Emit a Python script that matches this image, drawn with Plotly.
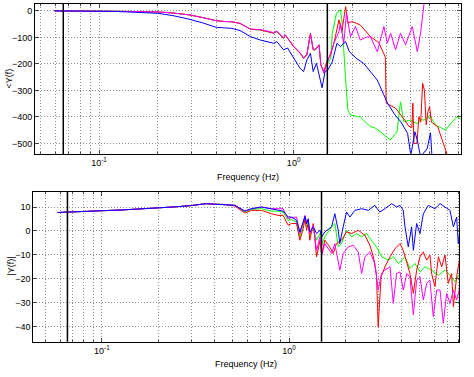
import plotly.graph_objects as go
from plotly.subplots import make_subplots

# ---------------- data: phase (top) ----------------
f_lo_ph = [0.059, 0.07, 0.085, 0.1, 0.12, 0.14, 0.17, 0.2, 0.24, 0.29, 0.34, 0.4, 0.44, 0.48, 0.53, 0.57, 0.6]
ph_lo_rgm = [0, 0, 0, 0, -1, -2, -3, -4, -8, -15, -25, -37, -40, -41, -47, -60, -69]
ph_lo_blue = [0, 0, 0, -1, -2, -4, -6, -9, -18, -31, -45, -62, -64, -66, -74, -88, -97]

f_red_ph = [0.674, 0.73, 0.789, 0.82, 0.888, 0.906, 1.0, 1.08, 1.125, 1.17, 1.22, 1.26, 1.29, 1.35, 1.38,
            1.43, 1.48, 1.55, 1.61, 1.71, 1.77, 1.85, 1.90, 2.0, 2.2, 2.48, 2.74, 2.9, 2.96, 2.99, 3.35,
            3.72, 3.9, 4.05, 4.1, 4.15, 4.3, 4.4, 4.5, 4.6, 4.7, 4.8, 4.9, 5.0, 5.1, 5.5, 6.05, 6.4]
red_ph = [-72, -78, -84, -78, -103, -91, -135, -160, -179, -166, -84, -147, -147, -128, -204,
          -229, -191, -166, -122, -34, -78, 16, -47, -40, -53, -97, -120, -160, -175, -348, -368,
          -412, -435, -440, -348, -500, -500, -400, -420, -273, -300, -430, -380, -362, -420, -437, -532, -580]

f_green_ph = [0.674, 0.73, 0.789, 0.82, 0.888, 0.906, 1.0, 1.08, 1.125, 1.17, 1.22, 1.26, 1.29, 1.35, 1.38,
              1.43, 1.48, 1.55, 1.58, 1.66, 1.74, 1.77, 1.81, 1.85, 1.90, 1.96, 2.05, 2.12, 2.2, 2.3,
              2.48, 2.6, 2.79, 2.95, 3.14, 3.4, 3.54, 3.68, 3.98, 4.15, 4.31, 4.5, 4.67, 5.05, 5.36,
              5.7, 6.03, 6.5, 6.92, 7.34]
green_ph = [-72, -78, -84, -78, -103, -91, -135, -160, -179, -166, -86, -147, -147, -128, -204,
            -229, -205, -180, -84, -9, 4, -34, -160, -261, -375, -393, -395, -400, -399, -415,
            -437, -440, -456, -470, -487, -456, -343, -418, -412, -420, -425, -410, -412, -399, -431,
            -440, -450, -420, -399, -412]

f_mag_ph = [0.674, 0.73, 0.789, 0.82, 0.888, 0.906, 1.0, 1.08, 1.125, 1.17, 1.22, 1.26, 1.29, 1.35, 1.38,
            1.43, 1.51, 1.61, 1.71, 1.74, 1.81, 1.87, 1.96, 2.08, 2.2, 2.35, 2.48, 2.69, 2.91, 3.03,
            3.15, 3.34, 3.54, 3.76, 4.07, 4.32, 4.5, 4.63, 4.8]
magenta_ph = [-70, -77, -82, -77, -101, -90, -133, -158, -177, -164, -86, -145, -145, -128, -204,
              -235, -179, -122, -78, -47, -122, -9, -97, -59, -110, -100, -97, -154, -59, -122,
              -84, -147, -84, -128, -59, -154, -80, 26, 100]

f_blue_ph = [0.674, 0.73, 0.789, 0.82, 0.888, 0.93, 1.0, 1.08, 1.125, 1.17, 1.22, 1.26, 1.31, 1.37, 1.40,
             1.45, 1.5, 1.58, 1.67, 1.74, 1.8, 1.85, 1.93, 2.1, 2.29, 2.48, 2.69, 3.04, 3.3, 3.55,
             3.85, 4.0, 4.2, 4.32, 4.49, 4.86, 5.05, 5.15, 5.6]
blue_ph = [-110, -115, -122, -116, -147, -140, -179, -217, -229, -185, -160, -229, -198, -261, -290,
           -229, -223, -192, -122, -135, -125, -116, -153, -179, -198, -229, -261, -349, -390, -418,
           -462, -545, -456, -488, -551, -519, -460, -560, -700]

# ---------------- data: magnitude (bottom) ----------------
f_lo_m = [0.058, 0.07, 0.08, 0.1, 0.13, 0.16, 0.2, 0.25, 0.3, 0.33, 0.36, 0.4]
mag_lo = [7.7, 7.9, 8.1, 8.4, 8.8, 9.2, 9.5, 10.1, 10.6, 10.9, 11.4, 11.2]

f_mid_m = [0.453, 0.513, 0.58, 0.63, 0.711, 0.805, 0.873, 0.929, 0.989, 1.03, 1.096, 1.142,
           1.19, 1.216, 1.24, 1.265, 1.29, 1.346, 1.403, 1.463, 1.493]
blue_mid = [11.1, 10.7, 8.3, 9.3, 10.0, 9.3, 8.9, 8.3, 5.8, 5.8, 4.4, -0.4,
            3.75, 6.1, 3.1, 5.1, -0.4, 1.7, -1.1, 0.3, -2.5]
green_mid = [11.1, 10.7, 7.9, 9.0, 9.3, 8.3, 8.3, 7.9, 4.4, 4.7, 3.75, -2.5,
             2.4, 5.8, 1.7, 4.4, -1.8, 1.0, -3.9, -1.1, -5.9]
red_mid = [11.1, 10.4, 7.5, 8.6, 8.6, 7.2, 6.5, 6.5, 2.4, 3.1, 3.1, -3.9,
           1.0, 5.1, 0.3, 3.1, -3.9, 3.1, -10.8, -3.9, -10.1]
magenta_mid = [11.1, 10.7, 8.3, 9.3, 10.0, 9.3, 9.3, 9.3, 5.1, 5.6, 5.8, -1.1,
               3.75, 6.5, 3.1, 4.4, -1.1, 2.4, -8.1, -2.5, -10.1]

f_blue_hf = [1.552, 1.686, 1.755, 1.83, 1.866, 1.945, 2.027, 2.113, 2.245, 2.44, 2.65, 2.87, 3.05, 3.25,
             3.53, 3.75, 3.91, 4.07, 4.16, 4.33, 4.51, 4.61, 4.80, 5.00, 5.21, 5.54, 6.01, 6.40, 6.80,
             7.23, 7.54, 7.85, 8.01, 8.18]
blue_hf = [-0.4, 1.7, 7.2, 0.3, -5.3, 1.7, 7.9, 5.8, 8.6, 9.3, 8.6, 10.7, 7.9, 9.3,
           11.4, 10.0, 10.7, 8.6, 1.7, -6.7, 1.7, -8.1, 3.1, -1.1, 7.2, 10.7, 9.3, 11.4, 10.0,
           8.6, 1.7, 5.8, -5.3, 0.3]

f_green_hf = [1.552, 1.686, 1.755, 1.83, 1.905, 2.027, 2.157, 2.29, 2.44, 2.59, 2.76, 2.93, 3.12, 3.39,
              3.60, 3.83, 4.16, 4.42, 4.70, 5.00, 5.32, 5.77, 6.27, 6.80, 7.23, 7.69, 8.18]
green_hf = [-2.5, 1.7, 3.1, -6.7, -5.3, 0.3, -2.5, -1.1, -2.5, -1.1, -3.9, -6.7, -10.8, -12.2,
            -10.8, -13.6, -10.8, -15.7, -13.6, -17.1, -15.0, -16.4, -18.5, -16.4, -18.5, -21.3, -17.8]

f_red_hf = [1.552, 1.65, 1.72, 1.79, 1.905, 2.027, 2.157, 2.34, 2.54, 2.70, 2.82, 2.93, 2.99, 3.10,
            3.25, 3.46, 3.68, 3.91, 4.07, 4.25, 4.42, 4.61, 4.80, 5.00, 5.21, 5.43, 5.65, 5.77, 6.01,
            6.27, 6.53, 6.80, 7.08, 7.38, 7.54, 7.85, 8.18]
red_hf = [-3.9, -6.7, -9.4, -5.3, -3.9, -0.4, -1.1, 0.3, -1.8, -6.0, -10.8, -18.5, -40.0, -19.2,
          -15.0, -10.8, -7.4, -5.3, -8.1, -13.6, -17.8, -26.1, -16.4, -10.8, -8.75, -12.2, -10.1, -17.8, -23.3,
          -10.8, -15.0, -10.1, -21.9, -17.8, -31.7, -19.2, -10.8]

f_magenta_hf = [1.552, 1.686, 1.755, 1.866, 1.945, 2.07, 2.2, 2.34, 2.44, 2.54, 2.70, 2.87, 2.99, 3.12,
                3.25, 3.46, 3.60, 3.75, 3.91, 4.07, 4.25, 4.42, 4.61, 4.80, 5.00, 5.21, 5.43, 5.65, 5.89,
                6.14, 6.40, 6.66, 6.94, 7.23, 7.54, 7.85, 8.18]
magenta_hf = [-5.3, -9.4, -5.3, -16.4, -9.4, -6.7, -6.0, -8.75, -17.8, -10.8, -8.75, -13.6, -24.7, -17.8,
              -16.4, -15.0, -30.3, -17.8, -17.1, -24.7, -17.8, -19.2, -35.1, -20.6, -19.2, -28.9, -21.9, -20.6, -35.8,
              -24.7, -24.7, -38.6, -26.1, -30.3, -24.7, -28.9, -23.3]

marker_freqs = [0.0655, 1.49]

# ---------------- figure ----------------
W, H = 474, 377
fig = make_subplots(rows=2, cols=1)

colors = {"green": "#00ff00", "red": "#ff0000", "magenta": "#ff00ff", "blue": "#0000ff"}

phase_series = [
    ("green", f_lo_ph + f_green_ph, ph_lo_rgm + green_ph),
    ("red", f_lo_ph + f_red_ph, ph_lo_rgm + red_ph),
    ("magenta", f_lo_ph + f_mag_ph, ph_lo_rgm + magenta_ph),
    ("blue", f_lo_ph + f_blue_ph, ph_lo_blue + blue_ph),
]
mag_series = [
    ("green", f_lo_m + f_mid_m + f_green_hf, mag_lo + green_mid + green_hf),
    ("red", f_lo_m + f_mid_m + f_red_hf, mag_lo + red_mid + red_hf),
    ("magenta", f_lo_m + f_mid_m + f_magenta_hf, mag_lo + magenta_mid + magenta_hf),
    ("blue", f_lo_m + f_mid_m + f_blue_hf, mag_lo + blue_mid + blue_hf),
]
for name, xs, ys in phase_series:
    fig.add_trace(go.Scatter(x=xs, y=ys, mode="lines", line=dict(color=colors[name], width=1),
                             showlegend=False, hoverinfo="skip"), row=1, col=1)
for name, xs, ys in mag_series:
    fig.add_trace(go.Scatter(x=xs, y=ys, mode="lines", line=dict(color=colors[name], width=1),
                             showlegend=False, hoverinfo="skip"), row=2, col=1)

for xr, yr in (("x", "y"), ("x2", "y2")):
    for fm in marker_freqs:
        fig.add_shape(type="line", xref=xr, yref=yr + " domain", x0=fm, x1=fm, y0=0, y1=1,
                      line=dict(color="black", width=1.5))

minor_vals = [0.05, 0.06, 0.07, 0.08, 0.09, 0.2, 0.3, 0.4, 0.5, 0.6, 0.7, 0.8, 0.9, 2, 3, 4, 5, 6, 7, 8]
font = dict(family="Liberation Sans, Arial", size=9, color="black")
GRIDC = "#8c8c8c"
GDASH = "1px,2px"
grid = dict(showgrid=True, gridcolor=GRIDC, griddash=GDASH, gridwidth=1)
xcommon = dict(type="log", tickmode="array", tickvals=[0.1, 1],
               ticktext=["10<sup>-1</sup>", "10<sup>0</sup>"], ticks="inside", ticklen=4,
               showline=True, linecolor="black", linewidth=1, mirror="ticks", zeroline=False,
               tickfont=font, automargin=False,
               minor=dict(tickmode="array", tickvals=minor_vals, ticks="inside", ticklen=2,
                          showgrid=True, gridcolor=GRIDC, griddash=GDASH, gridwidth=1),
               **grid)
ycommon = dict(ticks="inside", ticklen=4, showline=True, linecolor="black", linewidth=1,
               mirror="ticks", zeroline=False, tickfont=font, automargin=False, **grid)

fig.update_layout(
    width=W, height=H, margin=dict(l=0, r=0, t=0, b=0),
    paper_bgcolor="white", plot_bgcolor="white", showlegend=False,
    xaxis=dict(domain=[35 / W, 461 / W], range=[-1.329, 0.860], **xcommon),
    yaxis=dict(domain=[1 - 154 / H, 1 - 4 / H], range=[-540, 26],
               tickvals=[-500, -400, -300, -200, -100, 0], **ycommon),
    xaxis2=dict(domain=[33.3 / W, 459.3 / W], range=[-1.366, 0.909], **xcommon),
    yaxis2=dict(domain=[1 - 341.7 / H, 1 - 191.7 / H], range=[-46.3, 16.4],
                tickvals=[-40, -30, -20, -10, 0, 10], **ycommon),
)

annots = [
    dict(text="Frequency (Hz)", x=248 / W, y=1 - 177 / H, textangle=0),
    dict(text="Frequency (Hz)", x=246 / W, y=1 - 364 / H, textangle=0),
    dict(text="&lt;Y(f)", x=8.5 / W, y=1 - 79 / H, textangle=-90),
    dict(text="|Y(f)|", x=10.5 / W, y=1 - 266 / H, textangle=-90),
]
for a in annots:
    fig.add_annotation(xref="paper", yref="paper", xanchor="center", yanchor="middle",
                       showarrow=False, font=font, **a)

fig.write_html("out.html", config={"displayModeBar": False},
               post_script="document.body.style.margin='0px';")
